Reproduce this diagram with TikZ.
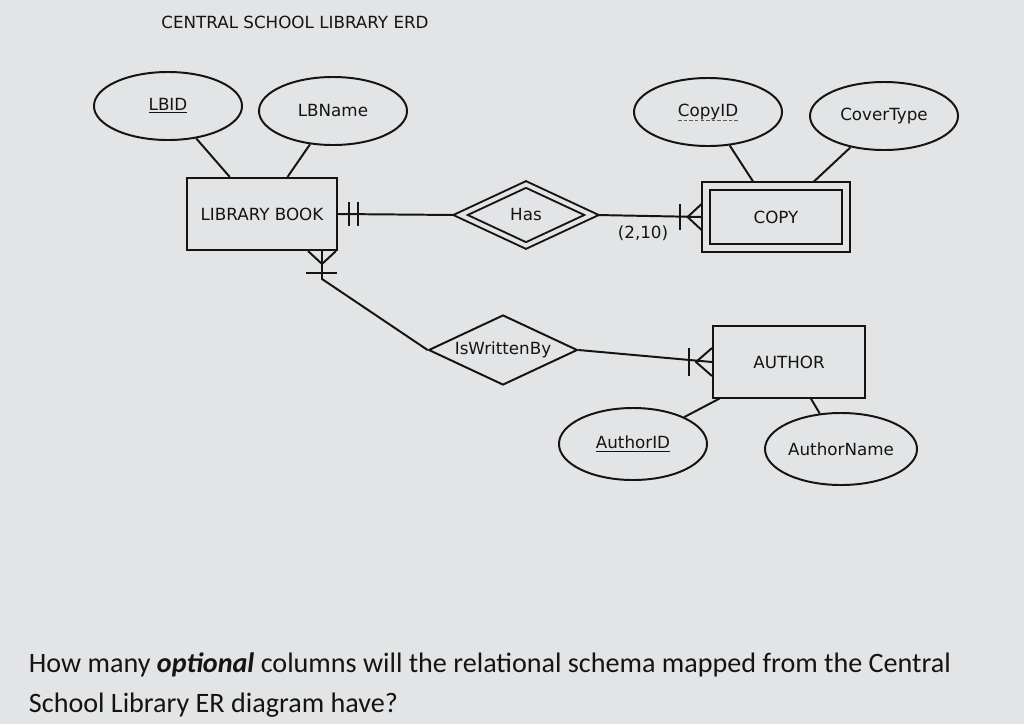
\documentclass[tikz,border=0pt]{standalone}
\usepackage{fontspec}
\setmainfont{DejaVu Sans}
\newfontfamily\qfont{Carlito}
\usepackage{tikz}
\usetikzlibrary{shapes.geometric, calc}
\definecolor{paper}{RGB}{226,228,229}
\definecolor{ink}{RGB}{20,20,20}

\begin{document}
\begin{tikzpicture}[
    x=0.025cm, y=-0.025cm,
    every node/.style = {font=\fontsize{11.9}{14}\selectfont, text=ink},
    attr/.style   = {ellipse, draw=ink, line width=1.4pt, inner sep=0pt,
                     minimum width=3.7cm, minimum height=1.7cm},
    entity/.style = {rectangle, draw=ink, line width=1.4pt,
                     minimum width=3.75cm, minimum height=1.8cm},
    weak/.style   = {entity, double=paper, double distance=1.5mm,
                     minimum width=3.5cm, minimum height=1.55cm, outer sep=0.11cm},
    rel/.style    = {diamond, draw=ink, line width=1.4pt, aspect=2, inner sep=0pt},
    wrel/.style   = {rel, double=paper, double distance=1mm, outer sep=0.09cm},
    link/.style   = {draw=ink, line width=1.4pt},
    tick/.style   = {draw=ink, line width=1.4pt}
]
\fill[paper] (0,0) rectangle (1024,724);

% Title
\node (title) at (295,22) {CENTRAL SCHOOL LIBRARY ERD};

% LIBRARY BOOK and its attributes
\node[entity] (lb) at (262,214) {LIBRARY BOOK};
\node[attr] (lbid)   at (168,106) {\underline{LBID}};
\node[attr] (lbname) at (333,111) {LBName};

% COPY (weak) and its attributes
\node[weak] (copy) at (776,217) {COPY};
\node[attr] (copyid)    at (708,112) {CopyID};
\node[attr] (covertype) at (884,116) {CoverType};
\draw[ink!70, line width=0.8pt, dash pattern=on 2.5pt off 1.5pt]
  ($(copyid.base)+(-30,4)$) -- ($(copyid.base)+(30,4)$);

% AUTHOR and its attributes
\node[entity, minimum width=3.8cm, minimum height=1.78cm] (author) at (789,362) {AUTHOR};
\node[attr, minimum height=1.8cm] (authorid)   at (633,444) {\underline{AuthorID}};
\node[attr, minimum width=3.8cm, minimum height=1.8cm] (authorname) at (841,449) {AuthorName};

% Relationships
\node[wrel, minimum width=3.35cm, minimum height=1.6cm] (has) at (526,215) {Has};
\node[rel, minimum width=3.72cm, minimum height=1.75cm] (iwb) at (503,350) {IsWrittenBy};
\node (card) at (643,233) {(2,10)};

% Attribute links
\draw[link] (lbid) -- (lb);
\draw[link] (lbname) -- (lb);
\draw[link] (copyid) -- (copy);
\draw[link] (covertype) -- (copy);
\draw[link] (authorid) -- (author);
\draw[link] (authorname) -- (author);

% Has: LIBRARY BOOK (one and only one) -- COPY (one or many)
\draw[link] (lb.east) -- (has.west);
\draw[link] (has.east) -- (copy.west);
\draw[tick] ($(lb.east)+(11,-12)$) -- ++(0,24);
\draw[tick] ($(lb.east)+(20,-12)$) -- ++(0,24);
\draw[tick] ($(copy.west)+(-22,-13)$) -- ++(0,26);
\draw[tick] ($(copy.west)+(0,-13)$) -- ($(copy.west)+(-14,0)$) -- ($(copy.west)+(0,13)$);

% IsWrittenBy: LIBRARY BOOK (one or many) -- AUTHOR (one or many)
\coordinate (lbfoot) at ($(lb.south east)+(-16,0)$);
\draw[link] (lbfoot) -- ++(0,28) -- (iwb.west);
\draw[tick] ($(lbfoot)+(-14,0)$) -- ($(lbfoot)+(0,13)$) -- ($(lbfoot)+(14,0)$);
\draw[tick] ($(lbfoot)+(-16,22)$) -- ++(31,0);
\draw[link] (iwb.east) -- (author.west);
\draw[tick] ($(author.west)+(-23,-14)$) -- ++(0,28);
\draw[tick] ($(author.west)+(0,-14)$) -- ($(author.west)+(-16,0)$) -- ($(author.west)+(0,14)$);

% Question
\node[anchor=base west, font=\qfont\fontsize{20}{28}\selectfont] (q1) at (24,672)
  {How many \textbf{\textit{optional}} columns will the relational schema mapped from the Central};
\node[anchor=base west, font=\qfont\fontsize{20}{28}\selectfont] (q2) at (24,712)
  {School Library ER diagram have?};
\end{tikzpicture}
\end{document}
